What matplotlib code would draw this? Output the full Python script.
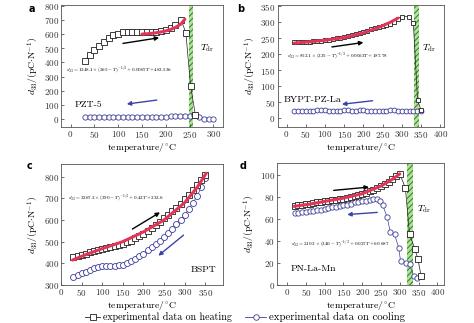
import matplotlib
matplotlib.use("Agg")
import matplotlib.pyplot as plt
from matplotlib.lines import Line2D

plt.rcParams["font.family"] = "serif"
plt.rcParams["font.serif"] = ["cmr10"]
plt.rcParams["mathtext.fontset"] = "cm"
plt.rcParams["axes.formatter.use_mathtext"] = True
plt.rcParams["hatch.linewidth"] = 0.8

# ---- panel a : PZT-5 ----
a_heat_T = [30, 40, 50, 60, 70, 80, 90, 100, 110, 120, 130, 140, 150, 160, 170,
            180, 190, 200, 210, 220, 232, 242, 252, 262]
a_heat = [412, 452, 485, 515, 545, 570, 590, 603, 611, 613, 613, 613, 612, 611, 612,
          615, 620, 630, 645, 665, 700, 610, 233, 28]
a_cool_T = [30, 40, 50, 60, 70, 80, 90, 100, 110, 120, 130, 140, 150, 160, 170,
            180, 190, 200, 210, 220, 230, 240, 250, 260, 270, 280, 290, 300]
a_cool = [12, 12, 13, 13, 13, 14, 14, 14, 15, 15, 15, 16, 16, 16, 17,
          17, 18, 18, 19, 19, 20, 21, 22, 28, 14, 4, 3, 2]
a_fit_T = [150, 165, 180, 195, 210, 222, 232, 240]
a_fit = [600, 603, 609, 618, 632, 650, 672, 705]

# ---- panel b : BYPT-PZ-La ----
b_heat_T = [20, 30, 40, 50, 60, 70, 80, 90, 100, 110, 120, 130, 140, 150, 160,
            170, 180, 190, 200, 210, 220, 230, 240, 250, 260, 270, 280, 290,
            300, 318, 330, 341, 350]
b_heat = [237, 237, 238, 239, 240, 241, 242, 243, 245, 246, 248, 250, 252, 254, 257,
          260, 263, 266, 270, 274, 278, 282, 285, 288, 292, 296, 302, 310,
          318, 318, 297, 57, 25]
b_cool_T = [20, 30, 40, 50, 60, 70, 80, 90, 100, 110, 120, 130, 140, 150, 160, 170,
            180, 190, 200, 210, 220, 230, 240, 250, 260, 270, 280, 290, 300, 310,
            320, 330, 340, 350]
b_cool = [22, 22, 23, 23, 24, 24, 25, 25, 25, 24, 24, 24, 24, 25, 25, 24,
          24, 25, 25, 24, 24, 24, 24, 24, 24, 25, 25, 24, 24, 24,
          24, 23, 24, 24]
b_fit_T = [20, 60, 100, 150, 200, 240, 270, 290]
b_fit = [235, 239, 244, 252, 267, 284, 300, 313]

# ---- panel c : BSPT ----
c_T = [30, 40, 50, 60, 70, 80, 90, 100, 110, 120, 130, 140, 150, 160, 170, 180,
       190, 200, 210, 220, 230, 240, 250, 260, 270, 280, 290, 300, 310, 320,
       330, 340, 350]
c_heat = [428, 434, 440, 445, 450, 456, 461, 466, 470, 474, 479, 484, 490, 497, 505, 515,
          525, 537, 550, 563, 577, 592, 607, 622, 640, 657, 675, 695, 715, 738,
          760, 785, 805]
c_cool = [335, 345, 355, 362, 370, 378, 383, 387, 388, 388, 389, 390, 393, 400, 410, 420,
          432, 445, 460, 475, 490, 505, 520, 540, 560, 580, 600, 625, 650, 680,
          710, 750, 795]
c_fit_T = [28, 60, 100, 150, 200, 250, 300, 330, 352]
c_fit = [415, 440, 468, 500, 545, 600, 680, 750, 815]

# ---- panel d : PN-La-Mn ----
d_heat_T = [20, 30, 40, 50, 60, 70, 80, 90, 100, 110, 120, 130, 140, 150, 160,
            170, 180, 190, 200, 210, 220, 230, 240, 250, 260, 270, 280, 290, 300,
            315, 326, 340, 348, 357]
d_heat = [72, 72.5, 73, 73.5, 74, 74.5, 75, 75.5, 76, 76.5, 77, 77.5, 78, 78.5, 79,
          80, 81, 82, 83, 84, 85, 86.5, 88, 90, 92, 94, 96.5, 99, 101,
          88, 46, 33, 24, 8]
d_cool_T = [20, 30, 40, 50, 60, 70, 80, 90, 100, 110, 120, 130, 140, 150, 160,
            170, 180, 190, 200, 210, 220, 230, 240, 248, 254, 266, 275, 286, 297,
            302, 316, 326, 337, 347, 357]
d_cool = [65, 65.5, 66, 66.5, 67, 67.5, 68, 68.5, 69.5, 70, 70.5, 71, 72, 72.5, 73,
          74, 75, 75.5, 76, 76.5, 77, 78, 78, 76, 73, 62, 48, 46, 34,
          22, 20, 19, 8, 6, 8]
d_fit_T = [18, 60, 100, 150, 200, 250, 280, 300]
d_fit = [71.5, 73.5, 76, 79, 83, 90, 96, 101]

SQ_COLOR = "#1e1e1e"
CI_COLOR = "#3c3c96"
FIT_COLOR = "#e23558"
ARROW_BLUE = "#3b45a8"

fig = plt.figure(figsize=(4.74, 3.23), dpi=100)
ax_a = fig.add_axes([0.1287, 0.6068, 0.3418, 0.3777])
ax_b = fig.add_axes([0.5859, 0.6068, 0.3502, 0.3777])
ax_c = fig.add_axes([0.1287, 0.1176, 0.3411, 0.3747])
ax_d = fig.add_axes([0.5844, 0.1176, 0.3517, 0.3768])


def style_axes(ax, xlim, ylim, xticks, yticks):
    ax.set_xlim(*xlim)
    ax.set_ylim(*ylim)
    ax.set_xticks(xticks)
    ax.set_yticks(yticks)
    ax.tick_params(direction="in", length=2, width=0.5, labelsize=6.5, pad=1.5,
                   colors="#333333")
    for s in ax.spines.values():
        s.set_linewidth(0.6)
        s.set_color("#555555")
    ax.set_xlabel(r"temperature/$^{\circ}$C", fontsize=7, labelpad=0.5)
    ax.set_ylabel(r"$d_{33}/(\mathrm{pC{\cdot}N^{-1}})$", fontsize=7, labelpad=2)


def draw_data(ax, heat_T, heat, cool_T, cool, fit_T, fit, ms=3.8):
    ax.plot(cool_T, cool, "-o", color=CI_COLOR, lw=0.5, ms=ms, mfc="white",
            mec=CI_COLOR, mew=0.6, zorder=3)
    ax.plot(heat_T, heat, "-s", color=SQ_COLOR, lw=0.5, ms=ms, mfc="white",
            mec=SQ_COLOR, mew=0.6, zorder=4)
    ax.plot(fit_T, fit, "-", color=FIT_COLOR, lw=2.2, zorder=5, solid_capstyle="round")


def band(ax, x0, x1):
    ax.axvspan(x0, x1, facecolor="#b5e09a", edgecolor="#2f8f2f", hatch="//////",
               lw=0, zorder=1)


def arrow(ax, start, end, color):
    ax.annotate("", xy=end, xytext=start,
                arrowprops=dict(arrowstyle="-|>", color=color, lw=1.0,
                                mutation_scale=6, shrinkA=0, shrinkB=0), zorder=6)


# panel a
draw_data(ax_a, a_heat_T, a_heat, a_cool_T, a_cool, a_fit_T, a_fit)
band(ax_a, 248, 258)
style_axes(ax_a, (-20, 320), (-56, 805), range(0, 301, 50), range(0, 801, 100))
arrow(ax_a, (110, 534), (186, 574), "black")
arrow(ax_a, (181, 134), (118, 106), ARROW_BLUE)
ax_a.text(272, 487, r"$T_{\rm dr}$", fontsize=7)
ax_a.text(9, 104, "PZT-5", fontsize=7, va="center")
ax_a.text(-9, 346, r"$d_{33}=1248.1\times(265-T)^{-1/3}+0.0067T+483.536$",
          fontsize=3.6, va="center")

# panel b
draw_data(ax_b, b_heat_T, b_heat, b_cool_T, b_cool, b_fit_T, b_fit, ms=3.5)
band(ax_b, 331, 344)
style_axes(ax_b, (-23, 409), (-27, 354), range(0, 401, 50), range(0, 351, 50))
arrow(ax_b, (118, 223), (200, 237), "black")
arrow(ax_b, (224, 55), (144, 44), ARROW_BLUE)
ax_b.text(352, 213, r"$T_{\rm dr}$", fontsize=7)
ax_b.text(-8, 57, "BYPT-PZ-La", fontsize=7, va="center")
ax_b.text(0, 192, r"$d_{33}=852.1\times(335-T)^{-1/3}+0.0063T+187.78$",
          fontsize=3.6, va="center")

# panel c
draw_data(ax_c, c_T, c_heat, c_T, c_cool, c_fit_T, c_fit, ms=4.3)
style_axes(ax_c, (0, 392), (300, 858), range(0, 351, 50), range(300, 801, 100))
arrow(ax_c, (173, 558), (240, 635), "black")
arrow(ax_c, (297, 530), (236, 435), ARROW_BLUE)
ax_c.text(345, 370, "BSPT", fontsize=7, ha="center", va="center")
ax_c.text(16, 700, r"$d_{33}=3267.3\times(390-T)^{-1/3}+0.43T+233.6$",
          fontsize=3.6, va="center")

# panel d
draw_data(ax_d, d_heat_T, d_heat, d_cool_T, d_cool, d_fit_T, d_fit, ms=3.8)
band(ax_d, 318, 335)
style_axes(ax_d, (-27, 417), (0, 110.6), range(0, 401, 50), range(0, 101, 20))
arrow(ax_d, (124, 86), (218, 89), "black")
arrow(ax_d, (240, 66), (160, 64), ARROW_BLUE)
ax_d.text(346, 67, r"$T_{\rm dr}$", fontsize=7)
ax_d.text(9, 15, "PN-La-Mn", fontsize=7, va="center")
ax_d.text(9, 37, r"$d_{33}=210.3\times(340-T)^{-1/3}+0.027T+60.687$",
          fontsize=3.6, va="center")

# panel letters
for x, y, s in [(0.067, 0.972, "a"), (0.508, 0.972, "b"),
                (0.063, 0.485, "c"), (0.513, 0.485, "d")]:
    fig.text(x, y, s, fontsize=7, fontweight="bold", family="DejaVu Sans",
             ha="center", va="center")

# legend below panels
ly = 1 - 317 / 323
fig.add_artist(Line2D([85 / 474, 100 / 474], [ly, ly], color=SQ_COLOR, lw=0.6))
fig.add_artist(Line2D([92.5 / 474], [ly], marker="s", ms=3.8, mfc="white",
                      mec=SQ_COLOR, mew=0.6))
fig.text(103 / 474, ly, "experimental data on heating", fontsize=7.2, va="center")
fig.add_artist(Line2D([245 / 474, 266 / 474], [ly, ly], color=CI_COLOR, lw=0.6))
fig.add_artist(Line2D([255.5 / 474], [ly], marker="o", ms=4, mfc="white",
                      mec=CI_COLOR, mew=0.6))
fig.text(269 / 474, ly, "experimental data on cooling", fontsize=7.8, va="center")

fig.savefig("out.png", dpi=100)
